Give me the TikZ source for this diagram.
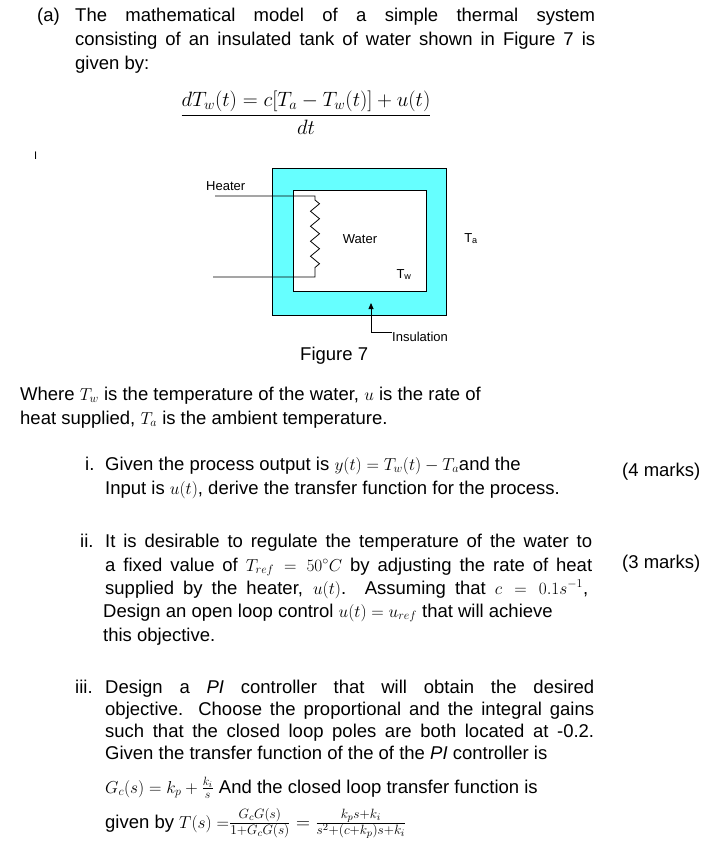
\documentclass[tikz,border=0pt]{standalone}
\usepackage{fontspec}
\setmainfont{Liberation Sans}
\usepackage{amsmath}
\usepackage{graphicx}
\usetikzlibrary{decorations.pathmorphing,arrows.meta}
\definecolor{insul}{RGB}{102,255,255}
\begin{document}
\begin{tikzpicture}[x=1pt,y=-1pt,
  txt/.style={anchor=base west,inner sep=0pt,font=\fontsize{18.5}{21}\selectfont},
  fig/.style={anchor=base,inner sep=0pt,font=\fontsize{13}{15}\selectfont},
  wire/.style={line width=0.8pt}]
\useasboundingbox[fill=white] (0,0) rectangle (711,850);
\newcommand\J[2]{\parbox[b]{#1pt}{\parfillskip=0pt\relax #2\par}}
% (a)
\node[txt] (a) at (37,22) {(a)};
\node[txt] (a1) at (75,22) {\J{520}{The mathematical model of a simple thermal system}};
\node[txt] (a2) at (75,46) {\J{520}{consisting of an insulated tank of water shown in Figure 7 is}};
\node[txt] (a3) at (75,70) {given by:};
\node[inner sep=0pt,font=\fontsize{20}{24}\selectfont] (eq) at (306,113) {$\dfrac{dT_w(t)=c[T_a-T_w(t)]+u(t)}{dt}$};
\node[txt] (bar) at (34,160) {\fontsize{11}{12}\selectfont I};
% figure
\fill[insul,draw=black,line width=0.8pt] (272,168) rectangle (446,315);
\fill[white,draw=black,line width=0.8pt] (293,190) rectangle (426,291);
\coordinate (h1) at (215,196);
\coordinate (h2) at (315,196);
\coordinate (h3) at (315,277);
\coordinate (h4) at (213,277);
\draw[wire] (h1) -- (h2) -- ++(0,4)
  decorate[decoration={zigzag,segment length=15pt,amplitude=4.5pt}]{-- ++(0,72)} -- (h3) -- (h4);
\node[fig,anchor=base west] (heater) at (206,191) {Heater};
\node[fig] (water) at (360,243) {Water};
\node[fig] (tw) at (404,278) {T\textsubscript{w}};
\node[fig] (ta) at (471,242) {T\textsubscript{a}};
\node[fig,anchor=base west] (ins) at (392,341) {Insulation};
\coordinate (ar) at (371,303);
\draw[wire,-{Triangle[length=6pt,width=5pt]}] (ins.west) ++(0,-4) -| (ar);
\node[txt] (f7) at (300,360) {Figure 7};
% where
\node[txt] (w1) at (20,400) {Where \(T_w\) is the temperature of the water, \(u\) is the rate of};
\node[txt] (w2) at (20,424) {heat supplied, \(T_a\) is the ambient temperature.};
% i
\node[txt] (i) at (85,470) {i.};
\node[txt] (i1) at (105,470) {Given the process output is \(y(t)=T_w(t)-T_a\)and the};
\node[txt] (i2) at (105,494) {Input is \(u(t)\), derive the transfer function for the process.};
\node[txt] (m1) at (622,476) {(4 marks)};
% ii
\node[txt] (ii) at (80,547) {ii.};
\node[txt] (ii1) at (105,547) {\J{487}{It is desirable to regulate the temperature of the water to}};
\node[txt] (ii2) at (105,571) {\J{487}{a fixed value of \(T_{ref}=50^\circ C\) by adjusting the rate of heat}};
\node[txt] (ii3) at (105,594) {\J{483}{supplied by the heater, \(u(t)\). Assuming that \(c=0.1s^{-1}\),}};
\node[txt] (ii4) at (103,617) {Design an open loop control \(u(t)=u_{ref}\) that will achieve};
\node[txt] (ii5) at (103,641) {this objective.};
\node[txt] (m2) at (622,568) {(3 marks)};
% iii
\node[txt] (iii) at (75,693) {iii.};
\node[txt] (iii1) at (105,693) {\J{489}{Design a \textit{PI} controller that will obtain the desired}};
\node[txt] (iii2) at (105,715) {\J{489}{objective. Choose the proportional and the integral gains}};
\node[txt] (iii3) at (105,737) {\J{489}{such that the closed loop poles are both located at -0.2.}};
\node[txt] (iii4) at (105,759) {Given the transfer function of the of the \textit{PI} controller is};
\node[txt] (iii5) at (105,793) {\(G_c(s)=k_p+\frac{k_i}{s}\) And the closed loop transfer function is};
\node[txt] (iii6) at (105,828) {given by \(T(s)=\)\raisebox{0pt}{\scalebox{1.12}{\(\frac{G_cG(s)}{1+G_cG(s)}=\frac{k_ps+k_i}{s^2+(c+k_p)s+k_i}\)}}};
\end{tikzpicture}
\end{document}
